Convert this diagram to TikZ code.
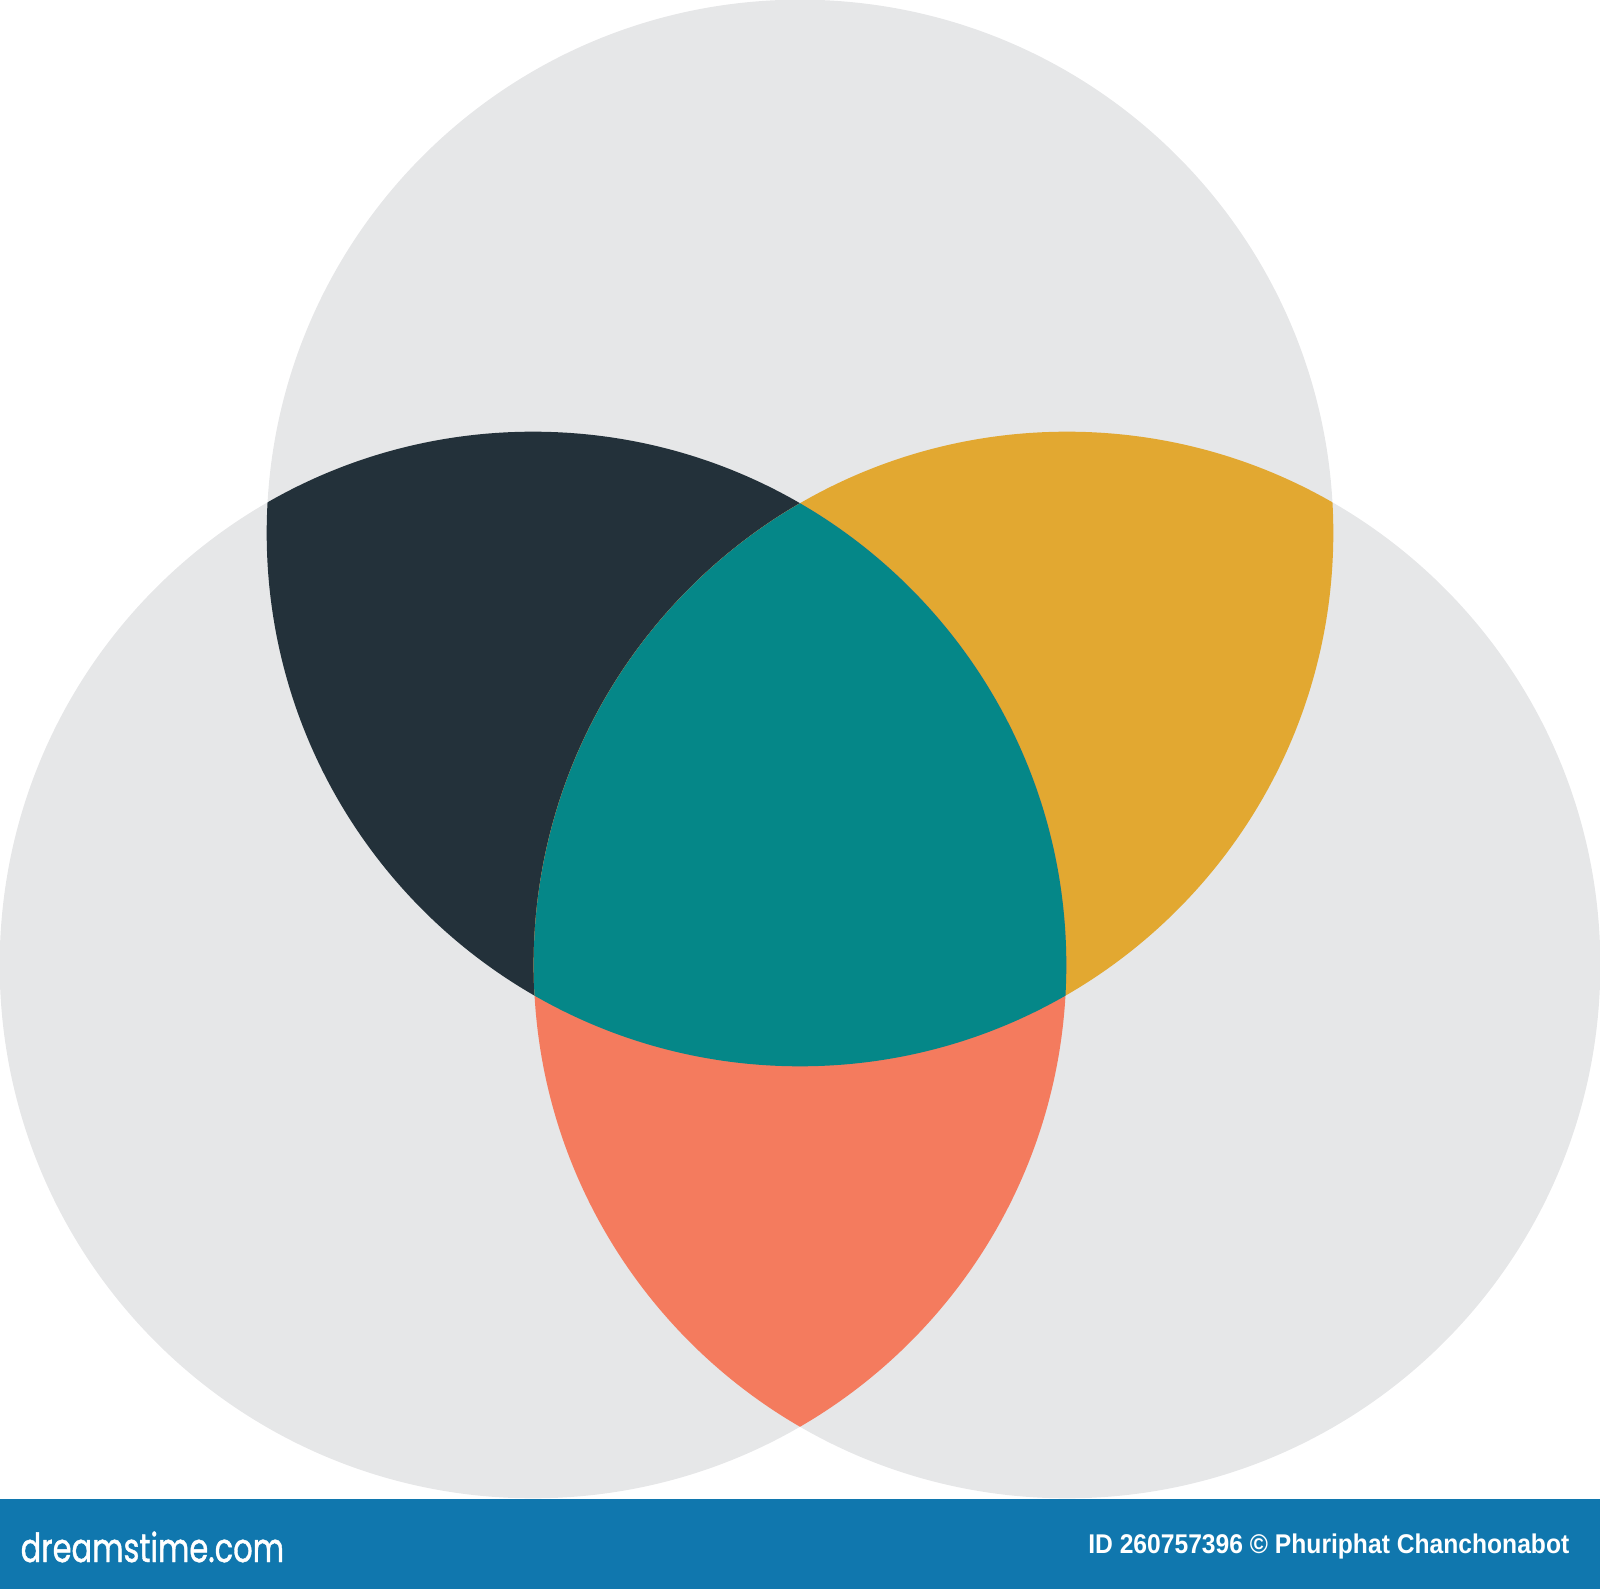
\documentclass[tikz,border=0pt]{standalone}
\usepackage{fontspec}
\newfontfamily\logofont[FakeBold=1.2]{Poppins}
\newfontfamily\creditfont{Liberation Sans}

\definecolor{venngray}{HTML}{E6E7E8}
\definecolor{petaldark}{HTML}{23313A}
\definecolor{petalyellow}{HTML}{E2A831}
\definecolor{petalorange}{HTML}{F47B5E}
\definecolor{centerteal}{HTML}{058788}
\definecolor{bannerblue}{HTML}{1077AE}

\begin{document}
\begin{tikzpicture}[x=0.01cm,y=-0.01cm]
                        \tikzstyle{disc}=[fill=venngray]
                        \tikzstyle{banner}=[fill=bannerblue]
                        \tikzstyle{bannertext}=[text=white,inner sep=0pt]
                        \def\rad{5.33cm}
                        \useasboundingbox (0,0) rectangle (1600,1589);
                        \coordinate (topc) at (800,533);
                        \coordinate (leftc) at (533,965);
                        \coordinate (rightc) at (1067,965);
                        % grey circles
                        \fill[disc] (topc) circle (\rad);
                        \fill[disc] (leftc) circle (\rad);
                        \fill[disc] (rightc) circle (\rad);
                        % pairwise overlaps
                        \begin{scope}
                            \clip (topc) circle (\rad);
                            \fill[petaldark] (leftc) circle (\rad);
                        \end{scope}
                        \begin{scope}
                            \clip (topc) circle (\rad);
                            \fill[petalyellow] (rightc) circle (\rad);
                        \end{scope}
                        \begin{scope}
                            \clip (leftc) circle (\rad);
                            \fill[petalorange] (rightc) circle (\rad);
                        \end{scope}
                        % middle
                        \begin{scope}
                            \clip (topc) circle (\rad);
                            \clip (leftc) circle (\rad);
                            \fill[centerteal] (rightc) circle (\rad);
                        \end{scope}
                        % bottom strip
                        \fill[banner] (0,1499) rectangle (1600,1589);
                        \node[bannertext,anchor=base west,font=\logofont\fontsize{11.4}{12}\selectfont] (logo) at (20,1562) {\scalebox{0.76}[1]{dreamstime.com}};
                        \node[bannertext,anchor=base east,font=\creditfont\bfseries\fontsize{7.7}{8}\selectfont] (credit) at (1570,1553) {\scalebox{0.91}[1]{ID 260757396 © Phuriphat Chanchonabot}};
                    \end{tikzpicture}
\end{document}
